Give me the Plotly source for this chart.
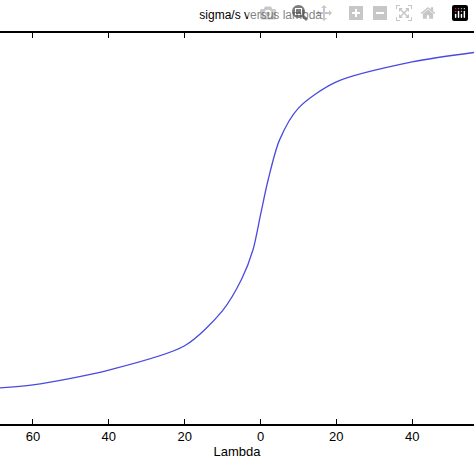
import plotly.graph_objects as go

lam = [-69, -60, -40, -20, -10, -5, -2, 0, 2, 5, 10, 20, 40, 57]
sigma_s = [0.092, 0.10, 0.138, 0.20, 0.29, 0.37, 0.445, 0.535, 0.624, 0.726, 0.808, 0.875, 0.926, 0.951]
tick_vals = [-60, -40, -20, 0, 20, 40]
tick_text = ["60", "40", "20", "0", "20", "40"]

fig = go.Figure(go.Scatter(x=lam, y=sigma_s, mode="lines", line=dict(color="#4a4ae0", width=1.3, shape="spline", smoothing=0.8)))
fig.update_layout(
    width=474, height=474, margin=dict(l=0, r=0, t=33, b=50),
    paper_bgcolor="white", plot_bgcolor="white", showlegend=False,
    title=dict(text="sigma/s versus lambda", x=0.55, xanchor="center", y=0.968, yanchor="middle",
               font=dict(family="Liberation Sans, Arial", size=12, color="black")),
    font=dict(family="Liberation Sans, Arial", size=13, color="black"),
)
fig.update_xaxes(range=[-68.7, 56.3], tickvals=tick_vals, ticktext=tick_text, ticks="inside", ticklen=5,
                 tickcolor="black", showline=True, linecolor="black", linewidth=1.5, mirror="ticks",
                 showgrid=False, zeroline=False,
                 title=dict(text="Lambda", standoff=4, font=dict(size=13)))
fig.update_yaxes(range=[0, 1], showticklabels=False, showgrid=False, zeroline=False, ticks="", showline=False)
fig.write_html("out.html", post_script="document.body.style.margin='0';document.body.style.overflow='hidden';")
